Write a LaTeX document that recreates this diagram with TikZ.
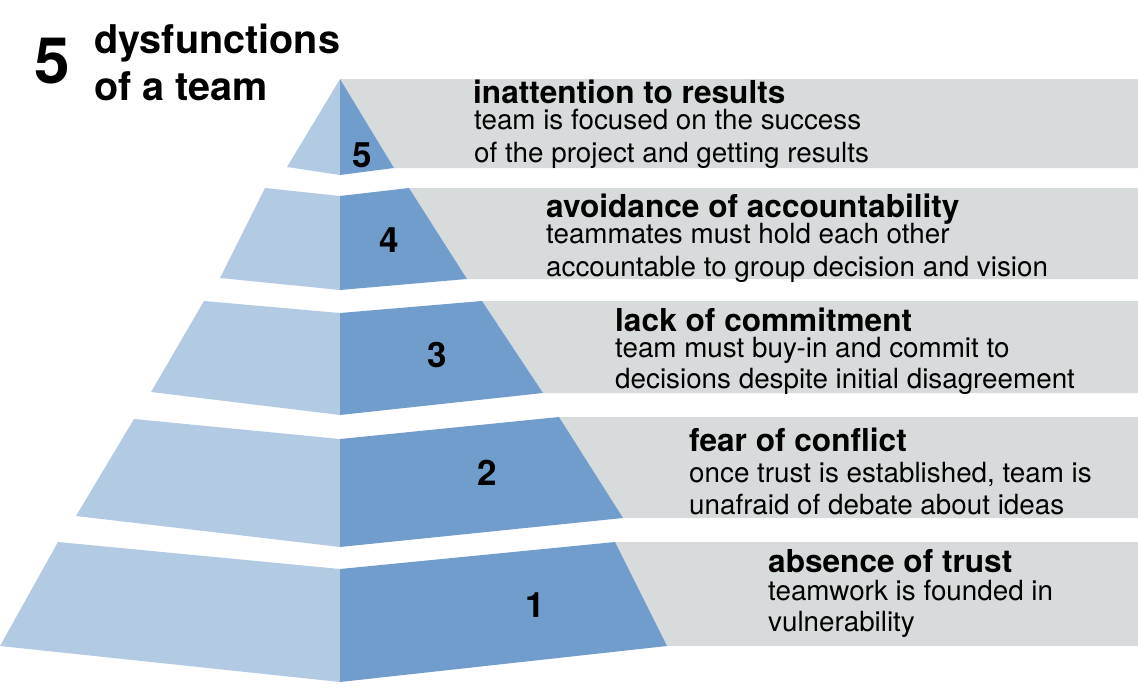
\documentclass[tikz,border=0pt]{standalone}
\usepackage{fontspec}
\setmainfont{TeX Gyre Heros}
\definecolor{lightface}{RGB}{179,203,226}
\definecolor{darkface}{RGB}{112,157,204}
\definecolor{barfill}{RGB}{216,219,220}
\begin{document}
\begin{tikzpicture}[x=1pt,y=-1pt,
  head/.style={anchor=base west, inner sep=0pt, font=\bfseries\fontsize{31.6}{36}\selectfont},
  body/.style={anchor=base west, inner sep=0pt, font=\fontsize{27.8}{33}\selectfont},
  num/.style={anchor=center, inner sep=0pt, font=\bfseries\fontsize{35}{40}\selectfont},
  title/.style={anchor=base west, inner sep=0pt, font=\bfseries\fontsize{39.6}{46}\selectfont}]
\useasboundingbox (0,0) rectangle (1138,688);
% tier 1
\fill[barfill] (615,542) -- (1138,542) -- (1138,646) -- (667,646) -- cycle;
\fill[lightface] (58,542) -- (340,569) -- (340,682) -- (0,646) -- cycle;
\fill[darkface] (340,569) -- (615,542) -- (667,646) -- (340,682) -- cycle;
% tier 2
\fill[barfill] (559,417) -- (1138,417) -- (1138,518) -- (623,518) -- cycle;
\fill[lightface] (134,419) -- (340,439) -- (340,547) -- (76,516) -- cycle;
\fill[darkface] (340,439) -- (559,417) -- (623,518) -- (340,547) -- cycle;
% tier 3
\fill[barfill] (482,301) -- (1138,301) -- (1138,393) -- (543,393) -- cycle;
\fill[lightface] (204,301) -- (340,313) -- (340,415) -- (151,392) -- cycle;
\fill[darkface] (340,313) -- (482,301) -- (543,393) -- (340,415) -- cycle;
% tier 4
\fill[barfill] (409,188) -- (1138,188) -- (1138,279) -- (467,279) -- cycle;
\fill[lightface] (265,188) -- (340,196) -- (340,290) -- (220,278) -- cycle;
\fill[darkface] (340,196) -- (409,188) -- (467,279) -- (340,290) -- cycle;
% tier 5
\fill[barfill] (340,79) -- (1138,79) -- (1138,168) -- (394,168) -- cycle;
\fill[lightface] (340,79) -- (340,175) -- (287,167) -- cycle;
\fill[darkface] (340,79) -- (394,168) -- (340,175) -- cycle;
% numbers
\node[num] (n5) at (362,155) {5};
\node[num] (n4) at (389,240) {4};
\node[num] (n3) at (437,355) {3};
\node[num] (n2) at (487,473) {2};
\node[num] (n1) at (535,605) {1};
% title
\node[anchor=base west, inner sep=0pt, font=\bfseries\fontsize{64}{70}\selectfont] (t5) at (34,83) {5};
\node[title] (t1) at (94,53) {dysfunctions};
\node[title] (t2) at (94,100) {of a team};
% texts
\node[head] (h5) at (473,103) {inattention to results};
\node[body] (a5) at (474,129) {team is focused on the success};
\node[body] (b5) at (474,162) {of the project and getting results};
\node[head] (h4) at (546,217) {avoidance of accountability};
\node[body] (a4) at (546,243) {teammates must hold each other};
\node[body] (b4) at (546,276) {accountable to group decision and vision};
\node[head] (h3) at (615,331) {lack of commitment};
\node[body] (a3) at (615,357) {team must buy-in and commit to};
\node[body] (b3) at (615,388) {decisions despite initial disagreement};
\node[head] (h2) at (689,451) {fear of conflict};
\node[body] (a2) at (689,482) {once trust is established, team is};
\node[body] (b2) at (689,514) {unafraid of debate about ideas};
\node[head] (h1) at (768,572) {absence of trust};
\node[body] (a1) at (768,600) {teamwork is founded in};
\node[body] (b1) at (768,631) {vulnerability};
\end{tikzpicture}
\end{document}
